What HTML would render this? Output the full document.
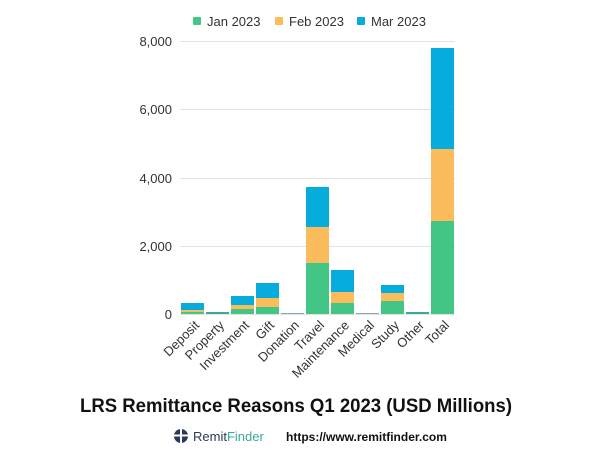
<!DOCTYPE html>
<html><head><meta charset="utf-8"><style>
body{margin:0;background:#fff;width:600px;height:450px;overflow:hidden}
svg{display:block;font-family:"Liberation Sans",sans-serif}
</style></head><body>
<svg width="600" height="450" viewBox="0 0 600 450">
<rect x="193" y="17" width="8" height="8" rx="1" fill="#43c685"/>
<rect x="275" y="17" width="8" height="8" rx="1" fill="#fbbd5c"/>
<rect x="357" y="17" width="8" height="8" rx="1" fill="#06acdb"/>
<g font-size="13" fill="#333">
<text x="207" y="26">Jan 2023</text>
<text x="289" y="26">Feb 2023</text>
<text x="371" y="26">Mar 2023</text>
</g>
<g stroke="#e2e2e2" stroke-width="1">
<line x1="180" y1="41.5" x2="455" y2="41.5"/>
<line x1="180" y1="109.5" x2="455" y2="109.5"/>
<line x1="180" y1="178.5" x2="455" y2="178.5"/>
<line x1="180" y1="246.5" x2="455" y2="246.5"/>
<line x1="180" y1="314.5" x2="455" y2="314.5"/>
</g>
<g font-size="13" fill="#333" text-anchor="end">
<text x="172" y="46">8,000</text>
<text x="172" y="114">6,000</text>
<text x="172" y="183">4,000</text>
<text x="172" y="251">2,000</text>
<text x="172" y="319">0</text>
</g>
<g>
<rect x="181" y="303" width="23" height="7" fill="#06acdb"/><rect x="181" y="310" width="23" height="2" fill="#fbbd5c"/><rect x="181" y="312" width="23" height="2" fill="#43c685"/>
<rect x="206" y="312" width="23" height="2" fill="#3aa99a"/>
<rect x="231" y="296" width="23" height="9" fill="#06acdb"/><rect x="231" y="305" width="23" height="4" fill="#fbbd5c"/><rect x="231" y="309" width="23" height="5" fill="#43c685"/>
<rect x="256" y="283" width="23" height="15" fill="#06acdb"/><rect x="256" y="298" width="23" height="9" fill="#fbbd5c"/><rect x="256" y="307" width="23" height="7" fill="#43c685"/>
<rect x="281" y="313" width="23" height="1" fill="#8ab"/>
<rect x="306" y="187" width="23" height="40" fill="#06acdb"/><rect x="306" y="227" width="23" height="36" fill="#fbbd5c"/><rect x="306" y="263" width="23" height="51" fill="#43c685"/>
<rect x="331" y="270" width="23" height="22" fill="#06acdb"/><rect x="331" y="292" width="23" height="11" fill="#fbbd5c"/><rect x="331" y="303" width="23" height="11" fill="#43c685"/>
<rect x="356" y="313" width="23" height="1" fill="#8ab"/>
<rect x="381" y="285" width="23" height="8" fill="#06acdb"/><rect x="381" y="293" width="23" height="8" fill="#fbbd5c"/><rect x="381" y="301" width="23" height="13" fill="#43c685"/>
<rect x="406" y="312" width="23" height="2" fill="#3aa99a"/>
<rect x="431" y="48" width="23" height="101" fill="#06acdb"/><rect x="431" y="149" width="23" height="72" fill="#fbbd5c"/><rect x="431" y="221" width="23" height="93" fill="#43c685"/>
</g>
<g font-size="13" fill="#333" text-anchor="end">
<text transform="translate(200,326) rotate(-45)">Deposit</text>
<text transform="translate(225,326) rotate(-45)">Property</text>
<text transform="translate(250,326) rotate(-45)">Investment</text>
<text transform="translate(275,326) rotate(-45)">Gift</text>
<text transform="translate(300,326) rotate(-45)">Donation</text>
<text transform="translate(325,326) rotate(-45)">Travel</text>
<text transform="translate(350,326) rotate(-45)">Maintenance</text>
<text transform="translate(375,326) rotate(-45)">Medical</text>
<text transform="translate(400,326) rotate(-45)">Study</text>
<text transform="translate(425,326) rotate(-45)">Other</text>
<text transform="translate(450,326) rotate(-45)">Total</text>
</g>
<text x="80" y="412" font-size="19" font-weight="bold" fill="#111" textLength="432" lengthAdjust="spacingAndGlyphs">LRS Remittance Reasons Q1 2023 (USD Millions)</text>
<g>
<circle cx="181" cy="436" r="7" fill="#2a3a5c"/>
<rect x="174" y="434.5" width="14" height="2" fill="#fff"/><rect x="180" y="429" width="2" height="14" fill="#fff"/>
<text x="193" y="441" font-size="13" fill="#2a3a5c">Remit<tspan fill="#3aa99a">Finder</tspan></text>
<text x="286" y="441" font-size="12" font-weight="bold" fill="#111">https://www.remitfinder.com</text>
</g>
</svg>
</body></html>
